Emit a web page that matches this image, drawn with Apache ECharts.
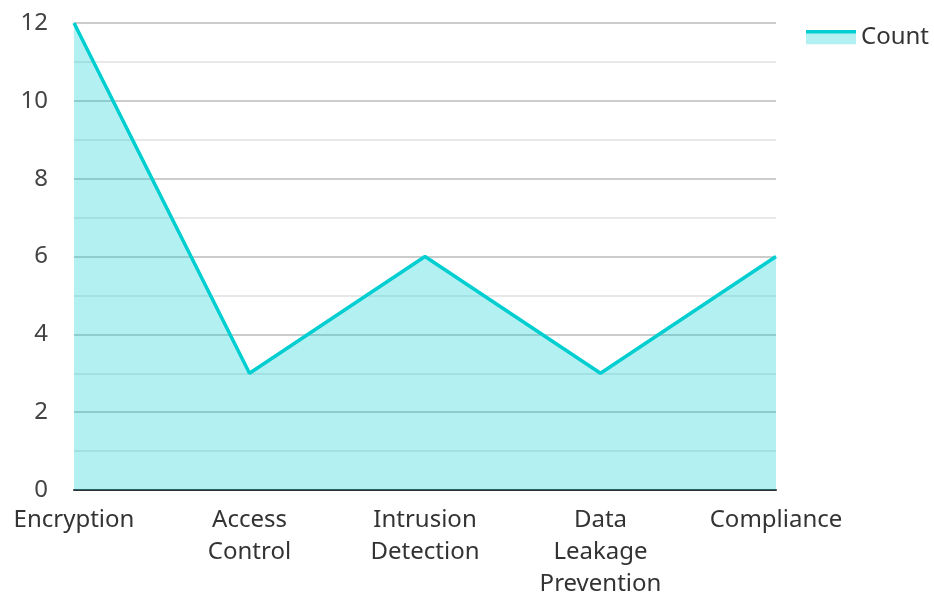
<!DOCTYPE html>
<html lang="en">
<head>
	<meta charset="UTF-8">
	<title>Count</title>
	<style>
		body{margin:0;background:#fff;}
	</style>
</head>
<body>
	<div id="line_one" style="width:934px;height:594px;"></div>
</body>
</html>
<script src="https://cdn.jsdelivr.net/npm/echarts@6/dist/echarts.min.js"></script>
<script>
	var categories=['Encryption','Access Control','Intrusion Detection','Data Leakage Prevention','Compliance'];
	var counts=[12,3,6,3,6];
	var seriesName='Count';

	// legend icon: line on top of a light area block
	var iconSvg='<svg xmlns="http://www.w3.org/2000/svg" width="50" height="15">'+
		'<rect x="0" y="3" width="50" height="12" fill="#b2f0f1"/>'+
		'<rect x="0" y="0" width="50" height="4" fill="#00CED1"/></svg>';

	var myChart1 = echarts.init(document.getElementById('line_one'));

	var option1 = {
		color: ['#00CED1'],
		textStyle: {
			fontFamily: 'Noto Sans'
		},
		legend: {
			right: 0,
			top: 20,
			itemWidth: 50,
			itemHeight: 15,
			itemGap: 10,
			icon: 'image://data:image/svg+xml;charset=utf-8,'+encodeURIComponent(iconSvg),
			textStyle: {
				color: '#333',
				fontSize: 24
			},
			data: [seriesName]
		},
		grid: {
			left: 74,
			right: 158,
			top: 23,
			bottom: 104,
			outerBoundsMode: 'none'
		},
		xAxis: {
			type: 'category',
			boundaryGap: false,
			data: categories,
			axisTick: {show: false},
			axisLine: {
				lineStyle: {color: '#333', width: 2}
			},
			axisLabel: {
				color: '#333',
				fontSize: 24,
				lineHeight: 32,
				margin: 14,
				interval: 0,
				formatter: function(v){ return v.split(' ').join('\n'); }
			}
		},
		yAxis: {
			type: 'value',
			min: 0,
			max: 12,
			interval: 2,
			axisTick: {show: false},
			axisLine: {show: false},
			axisLabel: {
				color: '#444',
				fontSize: 24,
				margin: 26
			},
			splitLine: {
				lineStyle: {color: '#ccc', width: 2}
			},
			minorTick: {show: false, splitNumber: 2},
			minorSplitLine: {
				show: true,
				lineStyle: {color: '#e8e8e8', width: 2}
			}
		},
		series: [
			{
				name: seriesName,
				type: 'line',
				data: counts,
				symbol: 'none',
				lineStyle: {width: 3.5},
				areaStyle: {opacity: 0.3}
			}
		]
	};
	myChart1.setOption(option1);
</script>
